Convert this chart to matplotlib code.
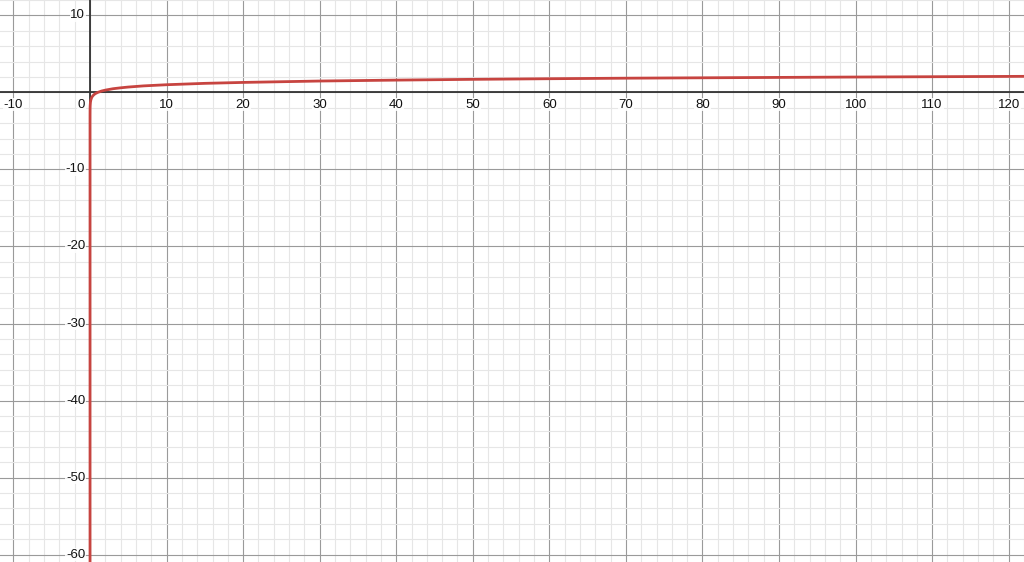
import numpy as np
import matplotlib
matplotlib.use('Agg')
import matplotlib.pyplot as plt

# points (x, y)
curve_x = [0.0, 0.0005, 0.001, 0.005, 0.01, 0.02, 0.05, 0.1, 0.2, 0.3, 0.5, 0.7, 1.0, 1.5, 2.0,
           3.0, 4.0, 5.0, 7.0, 10.0, 15.0, 20.0, 30.0, 40.0, 50.0, 60.0, 70.0, 80.0, 90.0,
           100.0, 110.0, 120.0, 122.0]
curve_y = [-62.0, -3.3, -3.0, -2.3, -2.0, -1.7, -1.3, -1.0, -0.7, -0.52, -0.3, -0.15, 0.0, 0.18, 0.3,
           0.48, 0.6, 0.7, 0.85, 1.0, 1.18, 1.3, 1.48, 1.6, 1.7, 1.78, 1.85, 1.9, 1.95,
           2.0, 2.04, 2.08, 2.09]

x_labels = [-10, 10, 20, 30, 40, 50, 60, 70, 80, 90, 100, 110, 120]
y_labels = [10, -10, -20, -30, -40, -50, -60]

xmin, xmax = -11.76, 121.05
ymin, ymax = -60.96, 11.93

fig = plt.figure(figsize=(10.24, 5.62), dpi=100)
ax = fig.add_axes([0, 0, 1, 1])
ax.set_xlim(xmin, xmax)
ax.set_ylim(ymin, ymax)
for s in ax.spines.values():
    s.set_visible(False)

ax.set_xticks(np.arange(-10, 130, 10))
ax.set_xticks(np.arange(-10, 124, 2), minor=True)
ax.set_yticks(np.arange(-60, 20, 10))
ax.set_yticks(np.arange(-60, 14, 2), minor=True)
ax.tick_params(which='both', length=0, labelbottom=False, labelleft=False)
ax.grid(which='minor', color='#e6e6e6', lw=0.8)
ax.grid(which='major', color='#9a9a9a', lw=0.8)
ax.set_axisbelow(True)

ax.axhline(0, color='#333333', lw=1.3, zorder=2)
ax.axvline(0, color='#333333', lw=1.3, zorder=2)

ax.plot(curve_x, curve_y, color='#c74440', lw=2.0, zorder=4, solid_capstyle='round')

box = dict(facecolor='white', edgecolor='none', pad=0.6, alpha=0.85)
fnt = dict(family=['Liberation Sans', 'DejaVu Sans'], size=9.5, color='#111111')
for v in x_labels:
    ax.annotate(str(v), xy=(v, 0), xytext=(0, -4.5), textcoords='offset points',
                ha='center', va='top', bbox=box, zorder=5, **fnt)
for v in y_labels:
    ax.annotate(str(v), xy=(0, v), xytext=(-3.5, 0), textcoords='offset points',
                ha='right', va='center', bbox=box, zorder=5, **fnt)
ax.annotate('0', xy=(0, 0), xytext=(-3.5, -4.5), textcoords='offset points',
            ha='right', va='top', bbox=box, zorder=5, **fnt)

fig.savefig('out.png', dpi=100)
